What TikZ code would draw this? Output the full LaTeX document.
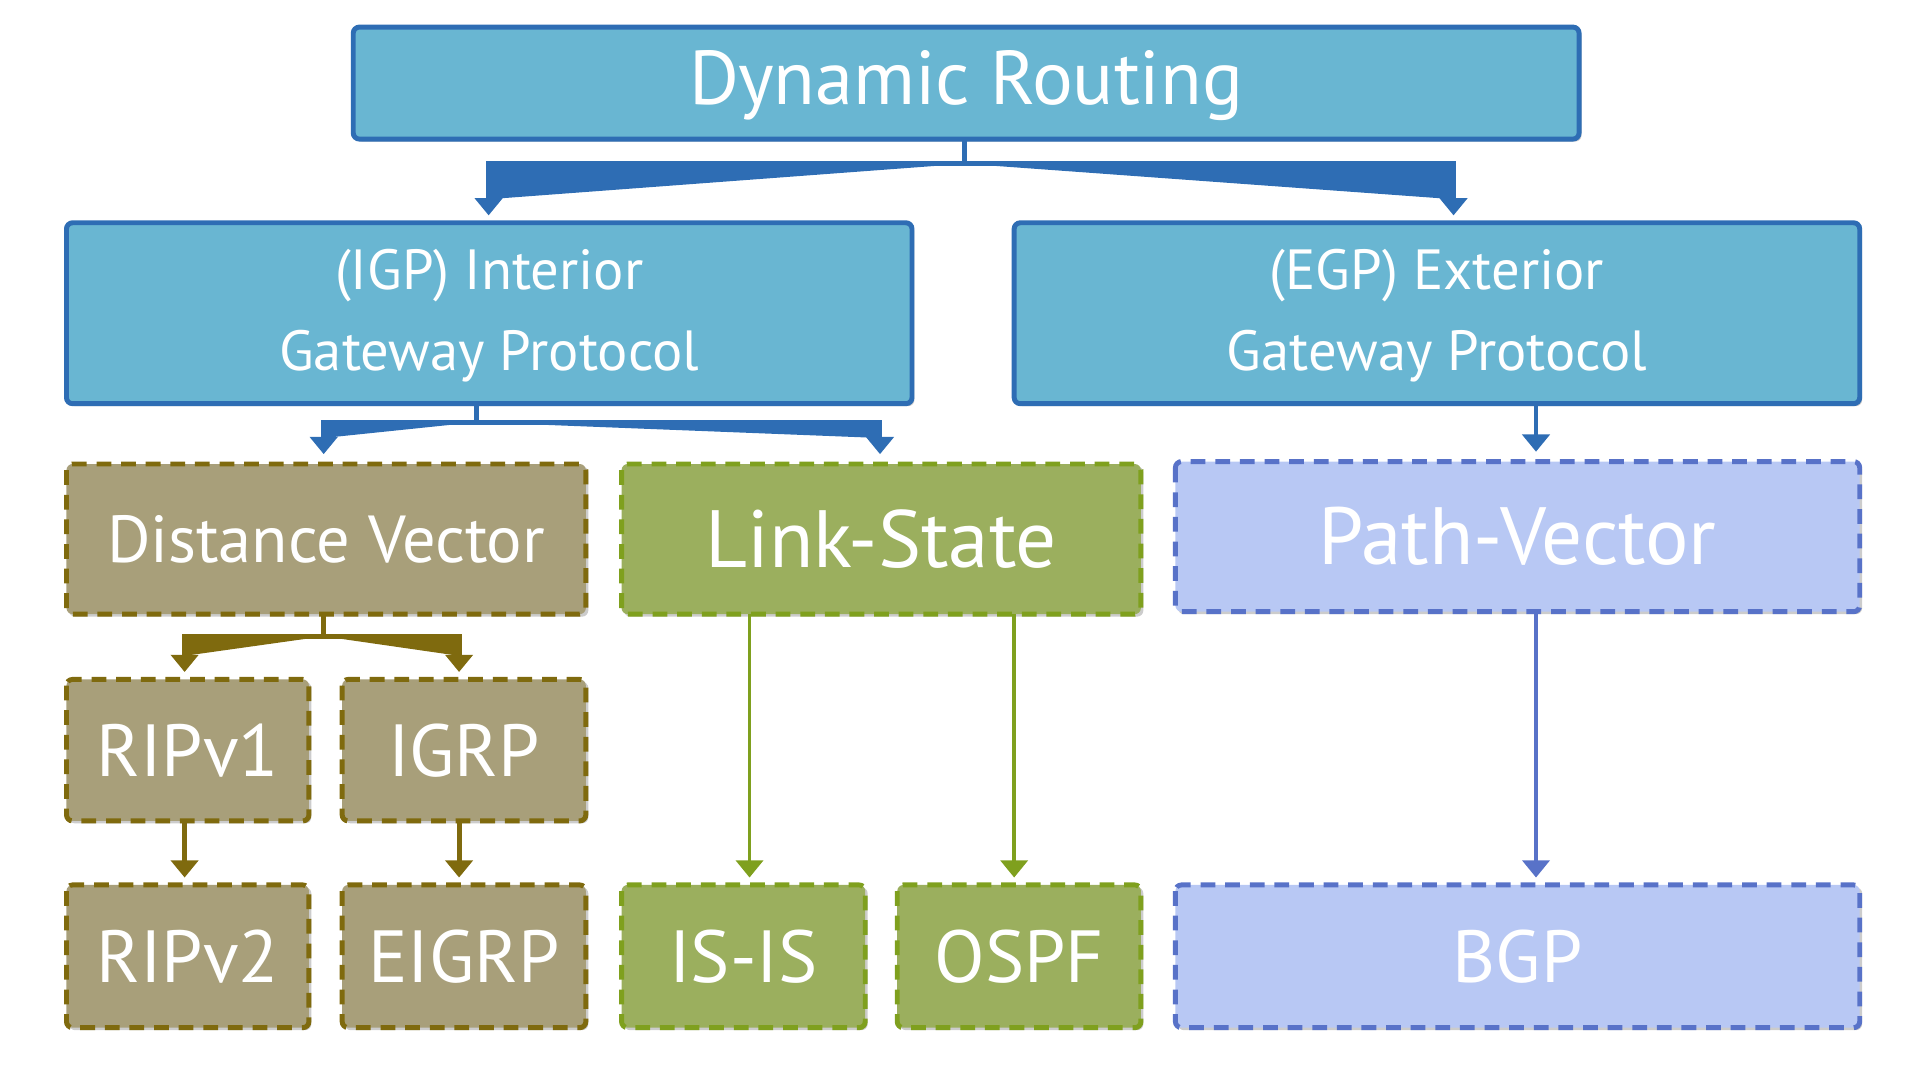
\documentclass[tikz,border=0pt]{standalone}
\usepackage{fontspec}
\setmainfont{PT Sans}
\usetikzlibrary{arrows.meta,shadows}
\definecolor{bfill}{HTML}{69B6D2}\definecolor{bdraw}{HTML}{2E6DB4}
\definecolor{tfill}{HTML}{A89F7A}\definecolor{tdraw}{HTML}{7F6A0E}
\definecolor{gfill}{HTML}{9BAF5E}\definecolor{gdraw}{HTML}{7FA01E}
\definecolor{lfill}{HTML}{B8C8F4}\definecolor{ldraw}{HTML}{5872C8}
\begin{document}
\begin{tikzpicture}[x=1pt,y=-1pt,
 box/.style={rounded corners=5pt,line width=4pt,drop shadow={shadow xshift=2pt,shadow yshift=-2pt,opacity=0.4}},
 solidb/.style={box,draw=bdraw,fill=bfill},
 tan/.style={box,draw=tdraw,fill=tfill,dash pattern=on 12pt off 8pt},
 grn/.style={box,draw=gdraw,fill=gfill,dash pattern=on 12pt off 8pt},
 lav/.style={box,draw=ldraw,fill=lfill,dash pattern=on 12pt off 8pt},
 lbl/.style={text=white,align=center,inner sep=0pt},
 con/.style={line width=4pt,-{Triangle[length=14pt,width=22pt]}},
 ]
\useasboundingbox (0,0) rectangle (1560,878);
\newcommand{\bx}[6]{\draw[#1] (#2,#3) rectangle (#4,#5); \coordinate (#6) at ({(#2+#4)/2},{(#3+#5)/2});}
\bx{solidb}{287}{22}{1283}{113}{dr}
\bx{solidb}{54}{181}{741}{328}{igp}
\bx{solidb}{824}{181}{1511}{328}{egp}
\bx{tan}{54}{377}{476}{499}{dv}
\bx{grn}{505}{377}{927}{499}{ls}
\bx{lav}{955}{375}{1511}{497}{pv}
\bx{tan}{54}{552}{251}{667}{r1}
\bx{tan}{278}{552}{476}{667}{ig}
\bx{tan}{54}{719}{251}{835}{r2}
\bx{tan}{278}{719}{476}{835}{ei}
\bx{grn}{505}{719}{703}{835}{is}
\bx{grn}{729}{719}{927}{835}{os}
\bx{lav}{955}{719}{1511}{835}{bgp}
\node[lbl,font=\fontsize{62}{70}\selectfont] (tdr) at ([yshift=-2pt]dr) {Dynamic Routing};
\node[lbl,font=\fontsize{46}{66}\selectfont] (tigp) at ([yshift=-2pt]igp) {(IGP) Interior\\Gateway Protocol};
\node[lbl,font=\fontsize{46}{66}\selectfont] (tegp) at ([yshift=-2pt]egp) {(EGP) Exterior\\Gateway Protocol};
\node[lbl,font=\fontsize{54}{60}\selectfont] (tdv) at (dv) {Distance Vector};
\node[lbl,font=\fontsize{66}{70}\selectfont] (tls) at (ls) {Link-State};
\node[lbl,font=\fontsize{66}{70}\selectfont] (tpv) at (pv) {Path-Vector};
\node[lbl,font=\fontsize{60}{70}\selectfont] (t1) at (r1) {RIPv1};
\node[lbl,font=\fontsize{60}{70}\selectfont] (t2) at (ig) {IGRP};
\node[lbl,font=\fontsize{60}{70}\selectfont] (t3) at (r2) {RIPv2};
\node[lbl,font=\fontsize{60}{70}\selectfont] (t4) at (ei) {EIGRP};
\node[lbl,font=\fontsize{60}{70}\selectfont] (t5) at (is) {IS-IS};
\node[lbl,font=\fontsize{60}{70}\selectfont] (t6) at (os) {OSPF};
\node[lbl,font=\fontsize{60}{70}\selectfont] (t7) at (bgp) {BGP};
% connectors
\draw[line width=4pt,draw=bdraw] (784,113) -- (784,133);
\draw[con,draw=bdraw,fill=bdraw] (784,133) -| (397,175);
\draw[con,draw=bdraw,fill=bdraw] (784,133) -| (1181,175);
\draw[line width=4pt,draw=bdraw] (387,328) -- (387,343);
\draw[con,draw=bdraw,fill=bdraw] (387,343) -| (263,369);
\draw[con,draw=bdraw,fill=bdraw] (387,343) -| (715,369);
\draw[con,draw=bdraw,fill=bdraw] (1248,328) -- (1248,367);
\draw[line width=4pt,draw=tdraw] (263,499) -- (263,517);
\draw[con,draw=tdraw,fill=tdraw] (263,517) -| (150,546);
\draw[con,draw=tdraw,fill=tdraw] (263,517) -| (373,546);
\draw[con,draw=tdraw,fill=tdraw] (150,667) -- (150,713);
\draw[con,draw=tdraw,fill=tdraw] (373,667) -- (373,713);
\draw[con,line width=3pt,draw=gdraw,fill=gdraw] (609,499) -- (609,713);
\draw[con,line width=3pt,draw=gdraw,fill=gdraw] (824,499) -- (824,713);
\draw[con,line width=3pt,draw=ldraw,fill=ldraw] (1248,497) -- (1248,713);
\end{tikzpicture}
\end{document}
